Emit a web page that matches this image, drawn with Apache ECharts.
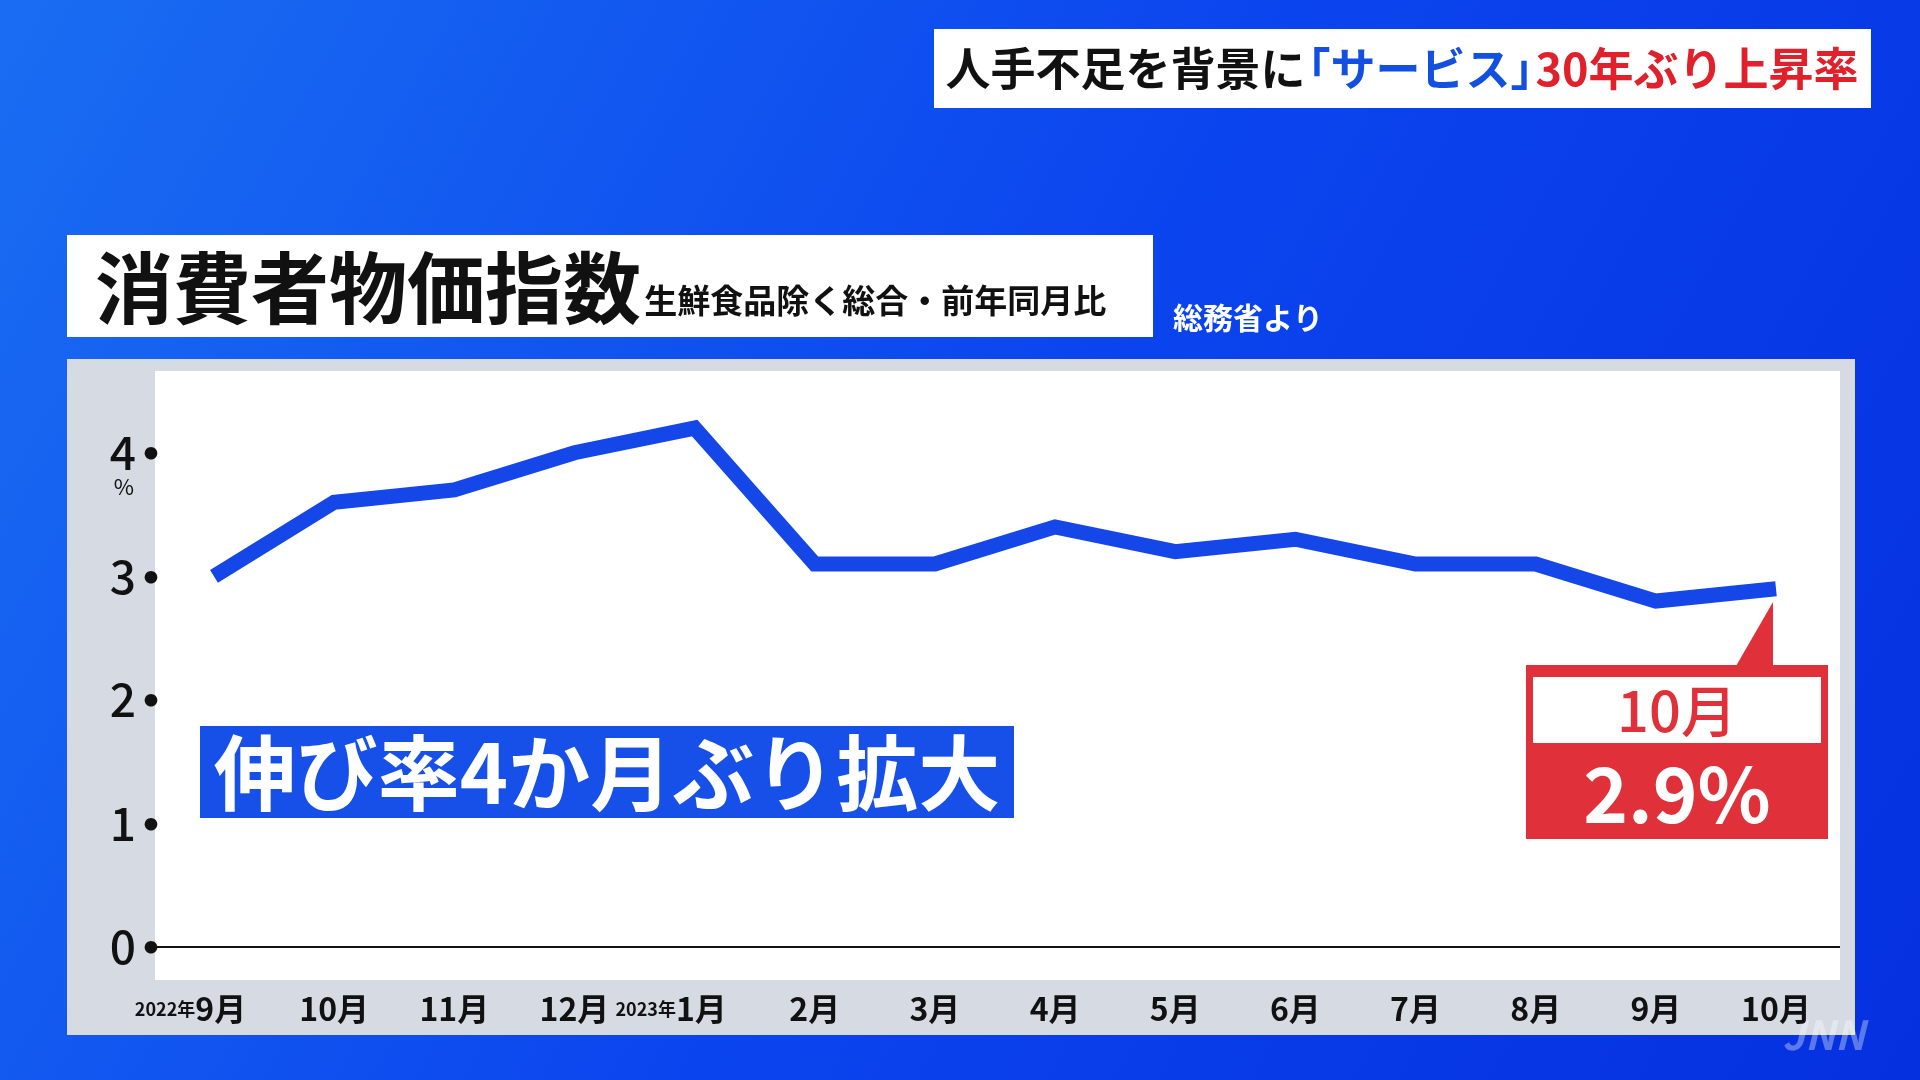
<!DOCTYPE html>
<html><head><meta charset="utf-8">
<script src="https://cdn.jsdelivr.net/npm/echarts@6/dist/echarts.min.js"></script>
<style>html,body{margin:0;padding:0;}#c{width:1920px;height:1080px;}</style>
</head><body><div id="c"></div>
<script>
const categories = ['9月','10月','11月','12月','1月','2月','3月','4月','5月','6月','7月','8月','9月','10月'];
const yearPrefix = {0:'2022年',4:'2023年'};
const values = [3.0,3.6,3.7,4.0,4.2,3.1,3.1,3.4,3.2,3.3,3.1,3.1,2.8,2.9];
const yTicks = [0,1,2,3,4];
const F = '"Noto Sans CJK JP", sans-serif';
const chart = echarts.init(document.getElementById('c'));
const blue = '#1446e8';
const option = {
  backgroundColor: {type:'linear',x:0,y:0,x2:1,y2:1,colorStops:[{offset:0,color:'#1a6df2'},{offset:0.5,color:'#0b45ee'},{offset:1,color:'#0530e0'}]},
  textStyle:{fontFamily:F},
  grid:{left:214,right:144,top:391,bottom:133},
  xAxis:{type:'category',data:categories,boundaryGap:false,
    axisLine:{show:false},axisTick:{show:false},
    axisLabel:{margin:46,interval:0,
      formatter:(v,i)=> yearPrefix[i]?'{s|'+yearPrefix[i]+'}{m|'+v+'}{h|'+yearPrefix[i]+'}':'{m|'+v+'}',
      rich:{s:{fontSize:18,fontWeight:'bold',color:'#111',fontFamily:F},h:{fontSize:14,fontWeight:'bold',color:'rgba(0,0,0,0)',fontFamily:F},m:{fontSize:32,fontWeight:'bold',color:'#111',fontFamily:F}}}},
  yAxis:{type:'value',min:0,max:4.5,interval:1,splitLine:{show:false},axisLine:{show:false},axisTick:{show:false},
    axisLabel:{margin:56,formatter:v=> yTicks.includes(v)?'{v|'+v+'}{d|●}':'',
      rich:{v:{fontSize:46,fontWeight:500,color:'#111',fontFamily:F,padding:[0,8,0,0]},d:{fontSize:14,color:'#111'}}}},
  series:[{type:'line',data:values,symbol:'none',lineStyle:{width:15,color:blue,join:'miter'},z:5}],
  graphic:[
    {type:'rect',shape:{x:934,y:29,width:937,height:79},style:{fill:'#fff'},z:-1},
    {type:'text',style:{x:1402,y:69,align:'center',verticalAlign:'middle',
      text:'{k|人手不足を背景に}{b|「サービス」}{r|30年ぶり上昇率}',
      rich:{k:{fontSize:45,fontWeight:'bold',fill:'#111',fontFamily:F},b:{fontSize:45,fontWeight:'bold',fill:'#1450e0',fontFamily:F,padding:[0,-20,0,-20]},r:{fontSize:45,fontWeight:'bold',fill:'#e0202a',fontFamily:F}}}},
    {type:'rect',shape:{x:67,y:235,width:1086,height:102},style:{fill:'#fff'},z:-1},
    {type:'text',style:{x:95,y:288,verticalAlign:'middle',
      text:'{a|消費者物価指数} {b|生鮮食品除く総合・前年同月比}',
      rich:{a:{fontSize:78,fontWeight:'bold',fill:'#111',fontFamily:F},b:{fontSize:33,fontWeight:'bold',fill:'#111',fontFamily:F,padding:[24,0,0,0]}}}},
    {type:'text',style:{x:1173,y:318,verticalAlign:'middle',text:'総務省より',fontSize:30,fontWeight:'bold',fill:'#fff',fontFamily:F}},
    {type:'rect',shape:{x:67,y:359,width:1788,height:676},style:{fill:'#d6dbe3'},z:-3},
    {type:'rect',shape:{x:155,y:371,width:1685,height:609},style:{fill:'#fff'},z:-2},
    {type:'text',style:{x:124,y:487,align:'center',verticalAlign:'middle',text:'%',fontSize:22,fill:'#111',fontFamily:F}},
    {type:'rect',shape:{x:200,y:726,width:814,height:92},style:{fill:'#1650e8'},z:1},
    {type:'text',z:2,style:{x:607,y:773,align:'center',verticalAlign:'middle',text:'伸び率4か月ぶり拡大',fontSize:82,fontWeight:'bold',fill:'#fff',fontFamily:F}},
    {type:'polygon',z:1,shape:{points:[[1736,666],[1773,666],[1773,602]]},style:{fill:'#e0303a'}},
    {type:'rect',z:1,shape:{x:1526,y:665,width:302,height:174},style:{fill:'#e0303a'}},
    {type:'rect',z:2,shape:{x:1533,y:677,width:288,height:66},style:{fill:'#fff'}},
    {type:'text',z:3,style:{x:1677,y:711,align:'center',verticalAlign:'middle',text:'10月',fontSize:56,fontWeight:500,fill:'#e0303a',fontFamily:F}},
    {type:'text',z:3,style:{x:1677,y:794,align:'center',verticalAlign:'middle',text:'2.9%',fontSize:76,fontWeight:'bold',fill:'#fff',fontFamily:F}},
    {type:'text',z:0,style:{x:1865,y:1035,align:'right',verticalAlign:'middle',text:'JNN',fontSize:40,fontWeight:'bold',fontStyle:'italic',fill:'rgba(255,255,255,0.35)',fontFamily:F}}
  ]
};
chart.setOption(option);
const y0 = chart.convertToPixel({yAxisIndex:0},0);
chart.setOption({graphic:option.graphic.concat([{type:'line',z:1,shape:{x1:155,y1:y0,x2:1840,y2:y0},style:{stroke:'#111',lineWidth:2}}])});
</script></body></html>
